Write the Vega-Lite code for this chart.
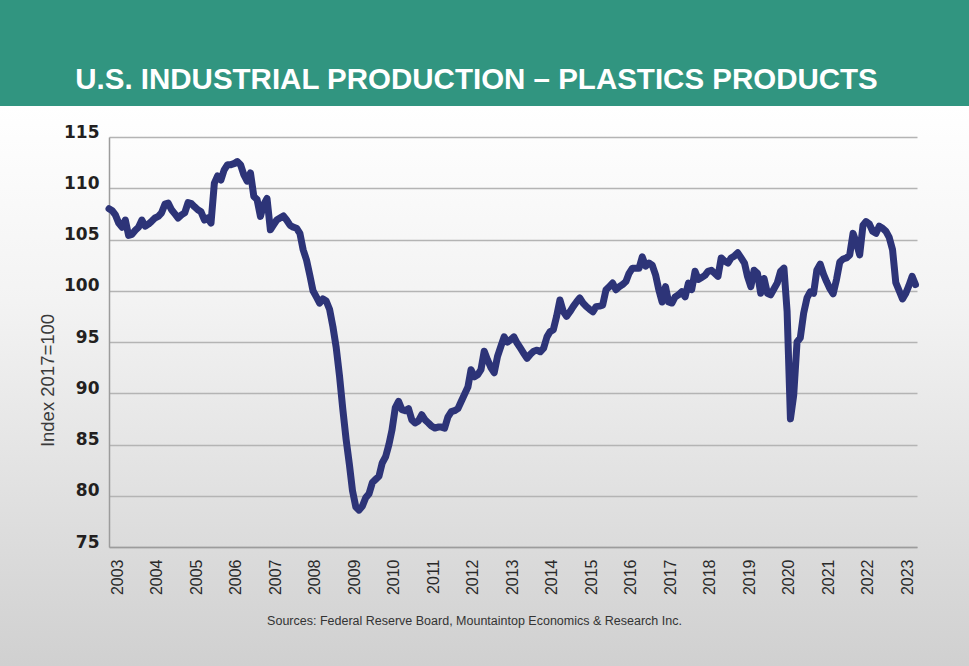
{
  "$schema": "https://vega.github.io/schema/vega-lite/v6.json",
  "width": 969,
  "height": 560,
  "autosize": {"type": "none"},
  "padding": {"top": 106, "left": 0, "right": 0, "bottom": 0},
  "background": "#319580",
  "view": {
    "stroke": null,
    "fill": {
      "gradient": "linear",
      "x1": 0, "y1": 0, "x2": 0, "y2": 1,
      "stops": [
        {"offset": 0, "color": "#ffffff"},
        {"offset": 0.35, "color": "#f3f3f3"},
        {"offset": 1, "color": "#d0d0d0"}
      ]
    }
  },
  "title": {
    "text": "U.S. INDUSTRIAL PRODUCTION – PLASTICS PRODUCTS",
    "anchor": "middle",
    "frame": "group",
    "color": "#ffffff",
    "font": "Liberation Sans",
    "fontSize": 29.5,
    "fontWeight": "bold",
    "baseline": "alphabetic",
    "offset": 17,
    "dx": -8,
    "dy": 29
  },
  "data": {
    "values": [
      {"date": "2003-01-01", "v": 108.0}, {"date": "2003-02-01", "v": 107.8}, {"date": "2003-03-01", "v": 107.4}, {"date": "2003-04-01", "v": 106.6},
      {"date": "2003-05-01", "v": 106.2}, {"date": "2003-06-01", "v": 106.9}, {"date": "2003-07-01", "v": 105.4}, {"date": "2003-08-01", "v": 105.5},
      {"date": "2003-09-01", "v": 105.9}, {"date": "2003-10-01", "v": 106.2}, {"date": "2003-11-01", "v": 106.9}, {"date": "2003-12-01", "v": 106.3},
      {"date": "2004-01-01", "v": 106.5}, {"date": "2004-02-01", "v": 106.8}, {"date": "2004-03-01", "v": 107.1}, {"date": "2004-04-01", "v": 107.25},
      {"date": "2004-05-01", "v": 107.6}, {"date": "2004-06-01", "v": 108.45}, {"date": "2004-07-01", "v": 108.55}, {"date": "2004-08-01", "v": 107.9},
      {"date": "2004-09-01", "v": 107.5}, {"date": "2004-10-01", "v": 107.1}, {"date": "2004-11-01", "v": 107.4}, {"date": "2004-12-01", "v": 107.6},
      {"date": "2005-01-01", "v": 108.6}, {"date": "2005-02-01", "v": 108.5}, {"date": "2005-03-01", "v": 108.2}, {"date": "2005-04-01", "v": 107.9},
      {"date": "2005-05-01", "v": 107.7}, {"date": "2005-06-01", "v": 106.9}, {"date": "2005-07-01", "v": 107.1}, {"date": "2005-08-01", "v": 106.6},
      {"date": "2005-09-01", "v": 110.5}, {"date": "2005-10-01", "v": 111.2}, {"date": "2005-11-01", "v": 110.8}, {"date": "2005-12-01", "v": 111.8},
      {"date": "2006-01-01", "v": 112.3}, {"date": "2006-02-01", "v": 112.3}, {"date": "2006-03-01", "v": 112.4}, {"date": "2006-04-01", "v": 112.6},
      {"date": "2006-05-01", "v": 112.3}, {"date": "2006-06-01", "v": 111.3}, {"date": "2006-07-01", "v": 110.7}, {"date": "2006-08-01", "v": 111.5},
      {"date": "2006-09-01", "v": 109.2}, {"date": "2006-10-01", "v": 108.9}, {"date": "2006-11-01", "v": 107.25}, {"date": "2006-12-01", "v": 108.4},
      {"date": "2007-01-01", "v": 109.0}, {"date": "2007-02-01", "v": 105.95}, {"date": "2007-03-01", "v": 106.4}, {"date": "2007-04-01", "v": 106.9},
      {"date": "2007-05-01", "v": 107.1}, {"date": "2007-06-01", "v": 107.3}, {"date": "2007-07-01", "v": 106.9}, {"date": "2007-08-01", "v": 106.4},
      {"date": "2007-09-01", "v": 106.2}, {"date": "2007-10-01", "v": 106.1}, {"date": "2007-11-01", "v": 105.6}, {"date": "2007-12-01", "v": 104.0},
      {"date": "2008-01-01", "v": 103.0}, {"date": "2008-02-01", "v": 101.5}, {"date": "2008-03-01", "v": 100.0}, {"date": "2008-04-01", "v": 99.4},
      {"date": "2008-05-01", "v": 98.8}, {"date": "2008-06-01", "v": 99.2}, {"date": "2008-07-01", "v": 99.0}, {"date": "2008-08-01", "v": 98.2},
      {"date": "2008-09-01", "v": 96.5}, {"date": "2008-10-01", "v": 94.5}, {"date": "2008-11-01", "v": 91.7}, {"date": "2008-12-01", "v": 88.5},
      {"date": "2009-01-01", "v": 85.5}, {"date": "2009-02-01", "v": 83.0}, {"date": "2009-03-01", "v": 80.5}, {"date": "2009-04-01", "v": 78.9},
      {"date": "2009-05-01", "v": 78.6}, {"date": "2009-06-01", "v": 79.0}, {"date": "2009-07-01", "v": 79.8}, {"date": "2009-08-01", "v": 80.2},
      {"date": "2009-09-01", "v": 81.3}, {"date": "2009-10-01", "v": 81.6}, {"date": "2009-11-01", "v": 81.9}, {"date": "2009-12-01", "v": 83.2},
      {"date": "2010-01-01", "v": 83.8}, {"date": "2010-02-01", "v": 85.0}, {"date": "2010-03-01", "v": 86.4}, {"date": "2010-04-01", "v": 88.6},
      {"date": "2010-05-01", "v": 89.2}, {"date": "2010-06-01", "v": 88.4}, {"date": "2010-07-01", "v": 88.3}, {"date": "2010-08-01", "v": 88.5},
      {"date": "2010-09-01", "v": 87.4}, {"date": "2010-10-01", "v": 87.1}, {"date": "2010-11-01", "v": 87.3}, {"date": "2010-12-01", "v": 87.9},
      {"date": "2011-01-01", "v": 87.4}, {"date": "2011-02-01", "v": 87.1}, {"date": "2011-03-01", "v": 86.8}, {"date": "2011-04-01", "v": 86.6},
      {"date": "2011-05-01", "v": 86.7}, {"date": "2011-06-01", "v": 86.7}, {"date": "2011-07-01", "v": 86.6}, {"date": "2011-08-01", "v": 87.7},
      {"date": "2011-09-01", "v": 88.2}, {"date": "2011-10-01", "v": 88.3}, {"date": "2011-11-01", "v": 88.5}, {"date": "2011-12-01", "v": 89.2},
      {"date": "2012-01-01", "v": 89.9}, {"date": "2012-02-01", "v": 90.6}, {"date": "2012-03-01", "v": 92.3}, {"date": "2012-04-01", "v": 91.6},
      {"date": "2012-05-01", "v": 91.8}, {"date": "2012-06-01", "v": 92.3}, {"date": "2012-07-01", "v": 94.1}, {"date": "2012-08-01", "v": 93.25},
      {"date": "2012-09-01", "v": 92.5}, {"date": "2012-10-01", "v": 92.0}, {"date": "2012-11-01", "v": 93.6}, {"date": "2012-12-01", "v": 94.55},
      {"date": "2013-01-01", "v": 95.5}, {"date": "2013-02-01", "v": 95.0}, {"date": "2013-03-01", "v": 95.2}, {"date": "2013-04-01", "v": 95.5},
      {"date": "2013-05-01", "v": 94.9}, {"date": "2013-06-01", "v": 94.4}, {"date": "2013-07-01", "v": 93.9}, {"date": "2013-08-01", "v": 93.4},
      {"date": "2013-09-01", "v": 93.8}, {"date": "2013-10-01", "v": 94.1}, {"date": "2013-11-01", "v": 94.2}, {"date": "2013-12-01", "v": 94.05},
      {"date": "2014-01-01", "v": 94.4}, {"date": "2014-02-01", "v": 95.5}, {"date": "2014-03-01", "v": 96.0}, {"date": "2014-04-01", "v": 96.2},
      {"date": "2014-05-01", "v": 97.5}, {"date": "2014-06-01", "v": 99.1}, {"date": "2014-07-01", "v": 98.0}, {"date": "2014-08-01", "v": 97.5},
      {"date": "2014-09-01", "v": 97.95}, {"date": "2014-10-01", "v": 98.45}, {"date": "2014-11-01", "v": 98.9}, {"date": "2014-12-01", "v": 99.3},
      {"date": "2015-01-01", "v": 98.8}, {"date": "2015-02-01", "v": 98.45}, {"date": "2015-03-01", "v": 98.2}, {"date": "2015-04-01", "v": 97.95},
      {"date": "2015-05-01", "v": 98.45}, {"date": "2015-06-01", "v": 98.5}, {"date": "2015-07-01", "v": 98.6}, {"date": "2015-08-01", "v": 100.1},
      {"date": "2015-09-01", "v": 100.4}, {"date": "2015-10-01", "v": 100.75}, {"date": "2015-11-01", "v": 100.1}, {"date": "2015-12-01", "v": 100.4},
      {"date": "2016-01-01", "v": 100.6}, {"date": "2016-02-01", "v": 100.9}, {"date": "2016-03-01", "v": 101.7}, {"date": "2016-04-01", "v": 102.2},
      {"date": "2016-05-01", "v": 102.2}, {"date": "2016-06-01", "v": 102.2}, {"date": "2016-07-01", "v": 103.3}, {"date": "2016-08-01", "v": 102.4},
      {"date": "2016-09-01", "v": 102.7}, {"date": "2016-10-01", "v": 102.5}, {"date": "2016-11-01", "v": 101.55}, {"date": "2016-12-01", "v": 100.1},
      {"date": "2017-01-01", "v": 98.9}, {"date": "2017-02-01", "v": 100.4}, {"date": "2017-03-01", "v": 98.9}, {"date": "2017-04-01", "v": 98.8},
      {"date": "2017-05-01", "v": 99.4}, {"date": "2017-06-01", "v": 99.6}, {"date": "2017-07-01", "v": 99.9}, {"date": "2017-08-01", "v": 99.4},
      {"date": "2017-09-01", "v": 100.75}, {"date": "2017-10-01", "v": 100.1}, {"date": "2017-11-01", "v": 101.9}, {"date": "2017-12-01", "v": 101.1},
      {"date": "2018-01-01", "v": 101.3}, {"date": "2018-02-01", "v": 101.5}, {"date": "2018-03-01", "v": 101.9}, {"date": "2018-04-01", "v": 102.0},
      {"date": "2018-05-01", "v": 101.7}, {"date": "2018-06-01", "v": 101.4}, {"date": "2018-07-01", "v": 103.2}, {"date": "2018-08-01", "v": 102.9},
      {"date": "2018-09-01", "v": 102.7}, {"date": "2018-10-01", "v": 103.2}, {"date": "2018-11-01", "v": 103.4}, {"date": "2018-12-01", "v": 103.7},
      {"date": "2019-01-01", "v": 103.2}, {"date": "2019-02-01", "v": 102.7}, {"date": "2019-03-01", "v": 101.4}, {"date": "2019-04-01", "v": 100.4},
      {"date": "2019-05-01", "v": 102.0}, {"date": "2019-06-01", "v": 101.7}, {"date": "2019-07-01", "v": 99.75}, {"date": "2019-08-01", "v": 101.2},
      {"date": "2019-09-01", "v": 99.75}, {"date": "2019-10-01", "v": 99.6}, {"date": "2019-11-01", "v": 100.2}, {"date": "2019-12-01", "v": 100.75},
      {"date": "2020-01-01", "v": 101.9}, {"date": "2020-02-01", "v": 102.2}, {"date": "2020-03-01", "v": 98.0}, {"date": "2020-04-01", "v": 87.5},
      {"date": "2020-05-01", "v": 89.8}, {"date": "2020-06-01", "v": 95.0}, {"date": "2020-07-01", "v": 95.4}, {"date": "2020-08-01", "v": 97.8},
      {"date": "2020-09-01", "v": 99.3}, {"date": "2020-10-01", "v": 99.9}, {"date": "2020-11-01", "v": 99.75}, {"date": "2020-12-01", "v": 102.0},
      {"date": "2021-01-01", "v": 102.6}, {"date": "2021-02-01", "v": 101.6}, {"date": "2021-03-01", "v": 100.9}, {"date": "2021-04-01", "v": 100.2},
      {"date": "2021-05-01", "v": 99.7}, {"date": "2021-06-01", "v": 101.1}, {"date": "2021-07-01", "v": 102.8}, {"date": "2021-08-01", "v": 103.1},
      {"date": "2021-09-01", "v": 103.2}, {"date": "2021-10-01", "v": 103.5}, {"date": "2021-11-01", "v": 105.6}, {"date": "2021-12-01", "v": 104.7},
      {"date": "2022-01-01", "v": 103.5}, {"date": "2022-02-01", "v": 106.4}, {"date": "2022-03-01", "v": 106.75}, {"date": "2022-04-01", "v": 106.5},
      {"date": "2022-05-01", "v": 105.8}, {"date": "2022-06-01", "v": 105.6}, {"date": "2022-07-01", "v": 106.3}, {"date": "2022-08-01", "v": 106.1},
      {"date": "2022-09-01", "v": 105.8}, {"date": "2022-10-01", "v": 105.2}, {"date": "2022-11-01", "v": 104.0}, {"date": "2022-12-01", "v": 100.8},
      {"date": "2023-01-01", "v": 100.0}, {"date": "2023-02-01", "v": 99.2}, {"date": "2023-03-01", "v": 99.7}, {"date": "2023-04-01", "v": 100.5},
      {"date": "2023-05-01", "v": 101.4}, {"date": "2023-06-01", "v": 100.6}
    ]
  },
  "mark": {
    "type": "line",
    "color": "#2d3478",
    "strokeWidth": 7,
    "strokeJoin": "round",
    "strokeCap": "round"
  },
  "encoding": {
    "x": {
      "field": "date",
      "type": "temporal",
      "scale": {
        "domain": [{"year": 2003, "month": 1, "date": 1}, {"year": 2023, "month": 6, "date": 15}],
        "range": [109, 917]
      },
      "axis": {
        "offset": -119,
        "tickCount": {"interval": "year", "step": 1},
        "format": "%Y",
        "labelAngle": -90,
        "labelOffset": 8,
        "labelPadding": 12,
        "labelFont": "Liberation Sans",
        "labelFontSize": 16,
        "labelColor": "#2a2a2a",
        "labelFlush": false,
        "labelOverlap": false,
        "ticks": false,
        "grid": false,
        "domainColor": "#9c9c9c",
        "domainWidth": 1.5,
        "title": "Sources: Federal Reserve Board, Mountaintop Economics & Research Inc.",
        "titleFont": "Liberation Sans",
        "titleFontSize": 12.5,
        "titleFontWeight": "normal",
        "titleColor": "#333333",
        "titleAlign": "center",
        "titleBaseline": "alphabetic",
        "titleX": 474,
        "titleY": 77
      }
    },
    "y": {
      "field": "v",
      "type": "quantitative",
      "scale": {"domain": [75, 115], "range": [441, 31], "zero": false, "nice": false},
      "axis": {
        "offset": -109,
        "values": [75, 80, 85, 90, 95, 100, 105, 110, 115],
        "labelFont": "DejaVu Sans",
        "labelFontWeight": "bold",
        "labelFontSize": 17,
        "labelColor": "#231f20",
        "labelPadding": 10,
        "labelBaseline": "alphabetic",
        "ticks": false,
        "grid": true,
        "gridColor": "#b4b4b4",
        "gridWidth": 1.3,
        "domainColor": "#9c9c9c",
        "domainWidth": 1.5,
        "title": "Index 2017=100",
        "titleFont": "Liberation Sans",
        "titleFontSize": 18.5,
        "titleFontWeight": "normal",
        "titleColor": "#3a3a3a",
        "titleAngle": -90,
        "titleAlign": "center",
        "titleBaseline": "alphabetic",
        "titleX": -56,
        "titleY": 274
      }
    }
  }
}
